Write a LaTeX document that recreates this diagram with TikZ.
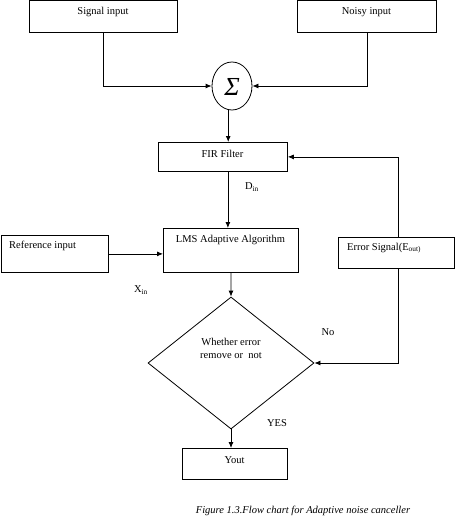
\documentclass[tikz,border=0pt]{standalone}
\usepackage{fontspec}
\setmainfont{Liberation Serif}
\usetikzlibrary{arrows.meta,shapes.geometric}
\tikzset{
  box/.style={draw, line width=0.8pt, rectangle, inner sep=0pt, anchor=north west},
  txt/.style={font=\fontsize{10.5}{12.5}\selectfont, inner sep=0pt},
  conn/.style={line width=0.8pt},
  arr/.style={conn, -{Latex[length=6pt,width=5pt]}}
}
\begin{document}
\begin{tikzpicture}[x=1pt,y=-1pt]
\useasboundingbox (0,0) rectangle (474,519);
% boxes
\node[box, minimum width=148pt, minimum height=32pt] (sig) at (29,0.5) {};
\node[txt] (sigt) at (103,12) {Signal input};
\node[box, minimum width=139pt, minimum height=32pt] (noisy) at (297,0.5) {};
\node[txt] (noisyt) at (366.5,12) {Noisy input};
\node[draw, ellipse, line width=0.8pt, minimum width=40pt, minimum height=48pt, inner sep=0pt] (sum) at (232,86) {};
\node[inner sep=0pt, font=\fontsize{26}{26}\selectfont\itshape] (sumt) at (232,87) {Σ};
\node[box, minimum width=129pt, minimum height=29pt] (fir) at (158,142) {};
\node[txt] (firt) at (222.5,154) {FIR Filter};
\node[box, minimum width=135pt, minimum height=44pt] (lms) at (163,228) {};
\node[txt] (lmst) at (230.5,240) {LMS Adaptive Algorithm};
\node[box, minimum width=107.5pt, minimum height=37pt] (ref) at (0.5,235) {};
\node[txt, anchor=west] (reft) at (9,246) {Reference input};
\node[box, minimum width=116pt, minimum height=31pt] (err) at (338,237) {};
\node[txt, anchor=west] (errt) at (347,248) {Error Signal(E\textsubscript{out)}};
\node[draw, diamond, line width=0.8pt, minimum width=166pt, minimum height=132pt, inner sep=0pt] (dec) at (231,363) {};
\node[txt, align=center] (dect) at (231,348.5) {Whether error\\remove or\ \ not};
\node[box, minimum width=105pt, minimum height=31pt] (yout) at (182,448) {};
\node[txt] (youtt) at (234.5,460) {Yout};
% labels
\node[txt] (din) at (252,187) {D\textsubscript{in}};
\node[txt] (xin) at (141,290) {X\textsubscript{in}};
\node[txt] (no) at (328,332) {No};
\node[txt] (yes) at (277,423) {YES};
\node[txt, font=\fontsize{10.5}{12.5}\selectfont\itshape] (cap) at (303,511) {Figure 1.3.Flow chart for Adaptive noise canceller};
% connectors
\draw[arr] (sig.south) |- (sum.west);
\draw[arr] (noisy.south) |- (sum.east);
\draw[arr] (sum.-99) -- (sum.-99 |- fir.north);
\draw[arr] ([xshift=5pt]fir.south) -- ([xshift=5pt]fir.south |- lms.north);
\draw[arr] (ref.east) -- (ref.east -| lms.west);
\draw[arr] (lms.south) -- (dec.north);
\draw[arr] ([xshift=2pt]err.north) |- (fir.east);
\draw[arr] ([xshift=2pt]err.south) |- (dec.east);
\draw[arr] (dec.south) -- (dec.south |- yout.north);
\end{tikzpicture}
\end{document}
